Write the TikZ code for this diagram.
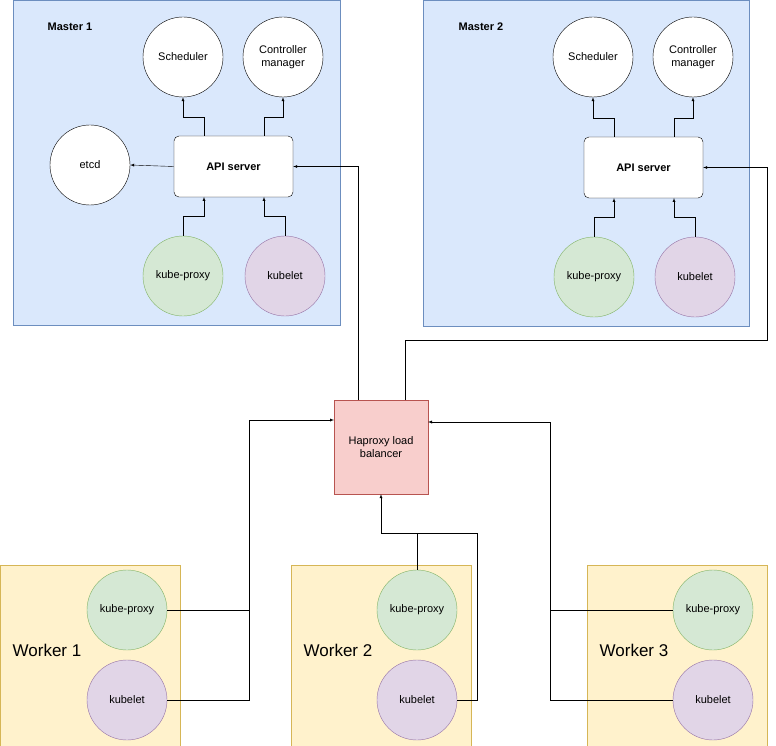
\documentclass[tikz,border=0pt]{standalone}
\usepackage{fontspec}
\setmainfont{Liberation Sans}
\begin{document}
\begin{tikzpicture}[x=1pt,y=-1pt,font=\fontsize{11}{13}\selectfont,
 area/.style={draw=#1,fill=#1!25},
 circ/.style={circle,draw,minimum size=80pt,inner sep=0pt,align=center},
 wh/.style={circ,fill=white,draw=black},
 gr/.style={circ,fill={rgb,255:red,213;green,232;blue,212},draw={rgb,255:red,130;green,179;blue,102}},
 pu/.style={circ,fill={rgb,255:red,225;green,213;blue,231},draw={rgb,255:red,150;green,115;blue,166}},
 api/.style={draw,rounded corners=5pt,fill=white,minimum width=119pt,minimum height=61pt,font=\fontsize{11}{13}\selectfont\bfseries},
 mbox/.style={draw={rgb,255:red,108;green,142;blue,191},fill={rgb,255:red,218;green,232;blue,252}},
 wbox/.style={draw={rgb,255:red,214;green,182;blue,86},fill={rgb,255:red,255;green,242;blue,204}},
 arr/.style={-latex,thin},
 ln/.style={thin}]
\useasboundingbox (0,0) rectangle (776,746);
\draw[mbox] (13,0) rectangle (340,325);
\draw[mbox] (423,0) rectangle (749,326);
\node[font=\fontsize{11}{13}\selectfont\bfseries] (m1) at (70,27) {Master 1};
\node[font=\fontsize{11}{13}\selectfont\bfseries] (m2) at (481,27) {Master 2};
\draw[wbox] (0,565) rectangle (180,746);
\draw[wbox] (291,565) rectangle (471,746);
\draw[wbox] (587,565) rectangle (767,746);
\node[font=\fontsize{17}{20}\selectfont] (w1) at (47,650) {Worker 1};
\node[font=\fontsize{17}{20}\selectfont] (w2) at (338,650) {Worker 2};
\node[font=\fontsize{17}{20}\selectfont] (w3) at (634,650) {Worker 3};
% master 1
\node[wh] (s1) at (183,57) {Scheduler};
\node[wh] (c1) at (283,57) {Controller\\manager};
\node[wh] (e1) at (90,165) {etcd};
\node[api] (a1) at (233.5,166.5) {API server};
\node[gr] (p1) at (183,276) {kube-proxy};
\node[pu] (k1) at (285,276) {kubelet};
% master 2
\node[wh] (s2) at (593,57) {Scheduler};
\node[wh] (c2) at (693,57) {Controller\\manager};
\node[api] (a2) at (643.5,167.5) {API server};
\node[gr] (p2) at (594,277) {kube-proxy};
\node[pu] (k2) at (695,277) {kubelet};
% haproxy
\node[draw={rgb,255:red,184;green,84;blue,80},fill={rgb,255:red,248;green,206;blue,204},minimum size=94pt,align=center] (h) at (381,447) {Haproxy load\\balancer};
% workers
\node[gr] (wp1) at (127,610) {kube-proxy};
\node[pu] (wk1) at (127,700) {kubelet};
\node[gr] (wp2) at (417,610) {kube-proxy};
\node[pu] (wk2) at (417,700) {kubelet};
\node[gr] (wp3) at (713,610) {kube-proxy};
\node[pu] (wk3) at (713,700) {kubelet};
% master edges
\draw[arr] (204,136) -- (204,117) -- (183,117) -- (s1.south);
\draw[arr] (264,136) -- (264,117) -- (283,117) -- (c1.south);
\draw[arr] (a1.west) -- (e1.east);
\draw[arr] (p1.north) -- (183,216) -- (204,216) -- (204,197);
\draw[arr] (k1.north) -- (285,216) -- (264,216) -- (264,197);
\draw[arr] (614,137) -- (614,118) -- (593,118) -- (s2.south);
\draw[arr] (674,137) -- (674,118) -- (693,118) -- (c2.south);
\draw[arr] (p2.north) -- (594,217) -- (614,217) -- (614,198);
\draw[arr] (k2.north) -- (695,217) -- (674,217) -- (674,198);
% haproxy to masters
\draw[arr] (358,400) -- (358,166.5) -- (a1.east);
\draw[arr] (405,400) -- (405,340) -- (767,340) -- (767,167.5) -- (a2.east);
% workers to haproxy
\draw[arr] (wp1.east) -- (249,610) -- (249,420) -- (334,420);
\draw[ln] (wk1.east) -- (249,700) -- (249,610);
\draw[arr] (wp2.north) -- (417,533) -- (381,533) -- (h.south);
\draw[ln] (wk2.east) -- (477,700) -- (477,533) -- (417,533);
\draw[arr] (wp3.west) -- (550,610) -- (550,422) -- (428,422);
\draw[ln] (wk3.west) -- (550,700) -- (550,610);
\end{tikzpicture}
\end{document}
